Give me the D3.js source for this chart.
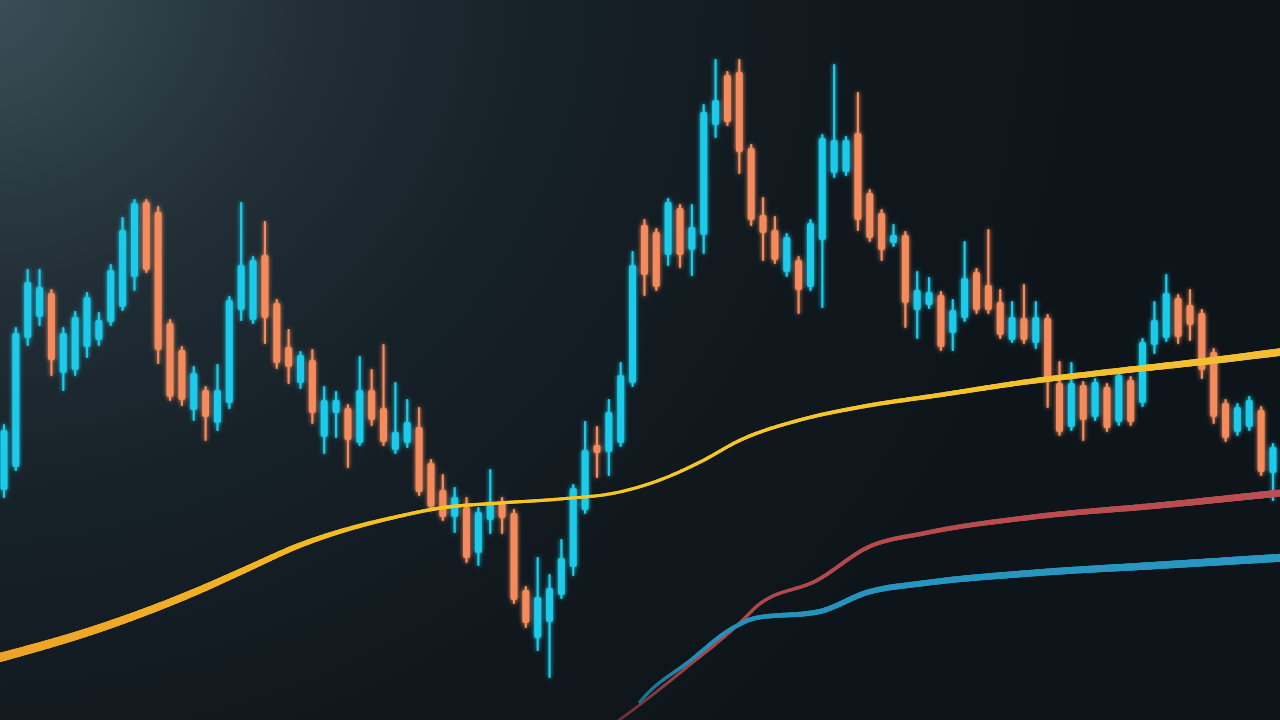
<!DOCTYPE html>
<html>
<head>
<meta charset="utf-8">
<script src="https://cdn.jsdelivr.net/npm/d3@7"></script>
<style>
  html, body { margin: 0; padding: 0; background: #0f171d; overflow: hidden; }
  svg { display: block; }
</style>
</head>
<body>
<svg id="chart" width="1280" height="720"></svg>
<script>
// ---------------- DATA ----------------
const candleOpen = [92,96.6,122.4,126.6,131.4,115.4,116,120.6,122,125.6,
  128.6,134.6,149.6,147.6,125.4,120,108,112,105.4,109.4,
  128,126,139,129.4,120.6,113.4,118,102.6,107.4,108.4,
  101.4,112,108.4,100,101.4,104.6,97.4,92,86.6,88.6,
  79.4,86,89.4,87.4,72,62.4,65.6,71,76.6,88,
  101,99.6,101.4,113.4,145,143.6,139,148.4,140,143,
  165,175,175.6,160.4,147,144,135.6,138,132.6,142,
  155.4,155.6,163.4,151.4,147.4,141.4,143,128,129,131,
  123.4,126.4,135.6,133,129.6,122,126.4,121.4,126.4,113.4,
  104.6,113,106.6,112.6,105.6,114,109.4,121,122.4,130.4,
  129,127.4,119.6,109.4,103.6,104.6,108,95.4];
const candleClose = [104,123.4,133.6,132.6,118,123.4,126.6,130.6,126,136,
  144,149.4,136,120,110.6,110,115.4,106.6,112,130,
  137,138,126.4,117.4,116.6,119,107.4,110,110,102,
  112,106,101.6,103.6,105.6,91.6,88.6,86.6,90.6,78.4,
  87.6,89.6,86.4,70,65.4,70.6,72.4,78.4,92.4,100,
  99.4,107.6,115,137,135,132.6,149.6,139,144.6,167.6,
  170,165.6,159.6,146,143.4,138,142.6,132,145.4,162.4,
  162,162,146,142.4,140,143,129.4,132,131.6,120.6,
  128,134.4,128,128,123,126.6,122,126.6,114,103.6,
  113.4,106,113.6,104.4,115,105.6,121.6,126,131.4,122.6,
  125,116,106.6,102.4,108.6,110,95.6,100.6];
const candleHigh = [105,124.4,136,136,132,124.4,127.6,131.4,127.4,137,
  146.4,150,150,148.6,126,120.6,116.6,112.6,117,130.6,
  149.4,138.6,145.6,130,124,119.6,120,112.6,111.6,109,
  118.6,116,121,113.4,110,108.4,98,95,92.4,90.4,
  88.4,96,90.4,88,72.6,78.4,75,82,93,105.6,
  104.6,110,117.4,139.6,146,144.2,150.2,149,149,169,
  178,175.6,178,161,150.4,146.6,143.2,138.6,146,163,
  177,162.6,171.4,152,148,145,143.6,135.6,134.4,131.6,
  130,141.6,136.2,144,132,129.6,133,129.6,127,117.6,
  117.4,113.6,114.2,113.2,115.6,114.6,122.2,129.6,135,131,
  132,128,120.2,110,109.2,110.6,108.6,101.2];
const candleLow = [90.6,96,121,125,115,112,115,118.6,121,125,
  128,132,135.6,117.4,110,109,106,102,104,108.4,
  126,125.4,121.4,116.4,113.4,112.4,105.4,99.4,102.6,96.6,
  101,105,101,99.4,100.6,91,88,86,83.6,77.6,
  77,83.4,83.4,69.4,64.6,60,54.6,70.4,75,87.4,
  94.6,95,100.8,112.8,131,132,137,136.6,135,139.4,
  162.6,165,155.4,145,138,137.4,134.8,127.4,132,128.6,
  154.6,155,144,141.8,138,140.8,124.6,122.4,128.4,120,
  120,125.8,127.4,127.4,122.4,121.6,121.4,120.4,108.6,103,
  104,102,106,103.8,105,105,108.8,119.4,121.8,121.4,
  122,114.4,105.4,101.8,103,104,95,90];

// moving averages (index position along the candle axis, value)
const maYellowIdx = [-0.5, 8.1, 16.5, 19.9, 25, 33.4, 36.8, 41.8, 46.9, 51.9, 55.3, 58.7, 62.1, 67.1, 72.2, 78.9, 87.4, 92.4, 100.8, 108];
const maYellowVal = [58.4, 64.4, 72, 75.6, 81, 86.8, 88.4, 89.4, 90.2, 91.6, 94, 97.6, 102, 106, 108.6, 111, 114, 115.4, 117.6, 119.7];
const maRedIdx = [50.9, 52.1, 57.6, 62.3, 63.4, 68.6, 72.9, 77.7, 86.8, 97.8, 108];
const maRedVal = [44.4, 46.4, 56.6, 66, 68.6, 74, 80.6, 83.4, 86.6, 89, 91.5];
const maBlueIdx = [53.6, 54.3, 57.6, 61.6, 63.4, 68.6, 72.9, 77.7, 86.8, 97.8, 108];
const maBlueVal = [49.6, 51.4, 57.4, 64.6, 66.4, 67.6, 71.6, 73.4, 75.4, 77, 78.5];

// ---------------- DRAW ----------------
const W = 1280, H = 720;
const svg = d3.select('#chart');
const defs = svg.append('defs');

const bg = defs.append('radialGradient').attr('id', 'bgGrad')
  .attr('gradientUnits', 'userSpaceOnUse').attr('cx', -40).attr('cy', -20).attr('r', 1150)
  .attr('gradientTransform', 'translate(-40,-20) scale(1,0.9) translate(40,20)');
[[0, '#3e525b'], [0.12, '#32444c'], [0.3, '#222f37'], [0.5, '#172128'], [0.75, '#11191f'], [1, '#0d151a']]
  .forEach(([o, c]) => bg.append('stop').attr('offset', o).attr('stop-color', c));

const glow = defs.append('filter').attr('id', 'glow')
  .attr('x', '-50%').attr('y', '-50%').attr('width', '200%').attr('height', '200%');
glow.append('feGaussianBlur').attr('in', 'SourceGraphic').attr('stdDeviation', 2.2).attr('result', 'b');
const fm = glow.append('feMerge');
fm.append('feMergeNode').attr('in', 'b');
fm.append('feMergeNode').attr('in', 'SourceGraphic');

const soft = defs.append('filter').attr('id', 'soft')
  .attr('x', '-10%').attr('y', '-10%').attr('width', '120%').attr('height', '120%');
soft.append('feGaussianBlur').attr('stdDeviation', 0.7);

svg.append('rect').attr('width', W).attr('height', H).attr('fill', '#0f171d');
svg.append('rect').attr('width', W).attr('height', H).attr('fill', 'url(#bgGrad)');

const x = d3.scaleLinear().domain([0, candleOpen.length - 1]).range([4, 1273]);
const y = d3.scaleLinear().domain([50, 190]).range([700, 0]);

const candles = candleOpen.map((o, i) => ({
  i, open: o, close: candleClose[i], high: candleHigh[i], low: candleLow[i]
}));

const UP = '#1ccbea', DOWN = '#f48b5c';
const bodyW = 7;

const cg = svg.append('g').attr('filter', 'url(#glow)');
const cgi = cg.append('g').attr('filter', 'url(#soft)');

cgi.selectAll('line.wick').data(candles).join('line')
  .attr('class', 'wick')
  .attr('x1', d => x(d.i)).attr('x2', d => x(d.i))
  .attr('y1', d => y(d.high)).attr('y2', d => y(d.low))
  .attr('stroke', d => d.close >= d.open ? UP : DOWN)
  .attr('stroke-width', 2.2).attr('stroke-linecap', 'round');

cgi.selectAll('rect.body').data(candles).join('rect')
  .attr('class', 'body')
  .attr('x', d => x(d.i) - bodyW / 2)
  .attr('width', bodyW)
  .attr('y', d => y(Math.max(d.open, d.close)))
  .attr('height', d => Math.max(2, Math.abs(y(d.open) - y(d.close))))
  .attr('rx', 2)
  .attr('fill', d => d.close >= d.open ? UP : DOWN);

// moving averages drawn with varying thickness
function drawMA(idx, vals, widthFn, colorFn) {
  const pts = idx.map((d, k) => [x(d), y(vals[k])]);
  const g = svg.append('g').attr('filter', 'url(#soft)');
  const p = g.append('path')
    .attr('d', d3.line().curve(d3.curveMonotoneX)(pts))
    .attr('fill', 'none').attr('stroke', 'none');
  const node = p.node();
  const L = node.getTotalLength();
  const n = Math.ceil(L / 2);
  const samples = d3.range(n + 1).map(k => node.getPointAtLength(k / n * L));
  const segs = d3.pairs(samples);
  g.selectAll('line').data(segs).join('line')
    .attr('x1', d => d[0].x).attr('y1', d => d[0].y)
    .attr('x2', d => d[1].x).attr('y2', d => d[1].y)
    .attr('stroke', d => colorFn(d[0].x))
    .attr('stroke-width', d => widthFn(d[0].x))
    .attr('stroke-linecap', 'round');
}

drawMA(maYellowIdx, maYellowVal,
  d3.scaleLinear().domain([0, 200, 400, 600, 800, 1000, 1280]).range([9, 7, 3.5, 3, 3.5, 5, 7.5]).clamp(true),
  d3.scaleLinear().domain([0, 250, 450, 800, 1280]).range(['#eca22a', '#f2b224', '#f7c620', '#f6c62a', '#f4bd32']).clamp(true));

drawMA(maRedIdx, maRedVal,
  d3.scaleLinear().domain([600, 800, 1000, 1280]).range([2.5, 3.5, 5, 7]).clamp(true),
  d3.scaleLinear().domain([600, 700, 900, 1280]).range(['#5a2a32', '#a8454a', '#b94c4e', '#bb4f52']).clamp(true));

drawMA(maBlueIdx, maBlueVal,
  d3.scaleLinear().domain([640, 800, 1000, 1280]).range([3, 5, 6.5, 8]).clamp(true),
  d3.scaleLinear().domain([640, 700, 900, 1280]).range(['#1a6f90', '#2590bb', '#2795c0', '#2a98c2']).clamp(true));
</script>
</body>
</html>
